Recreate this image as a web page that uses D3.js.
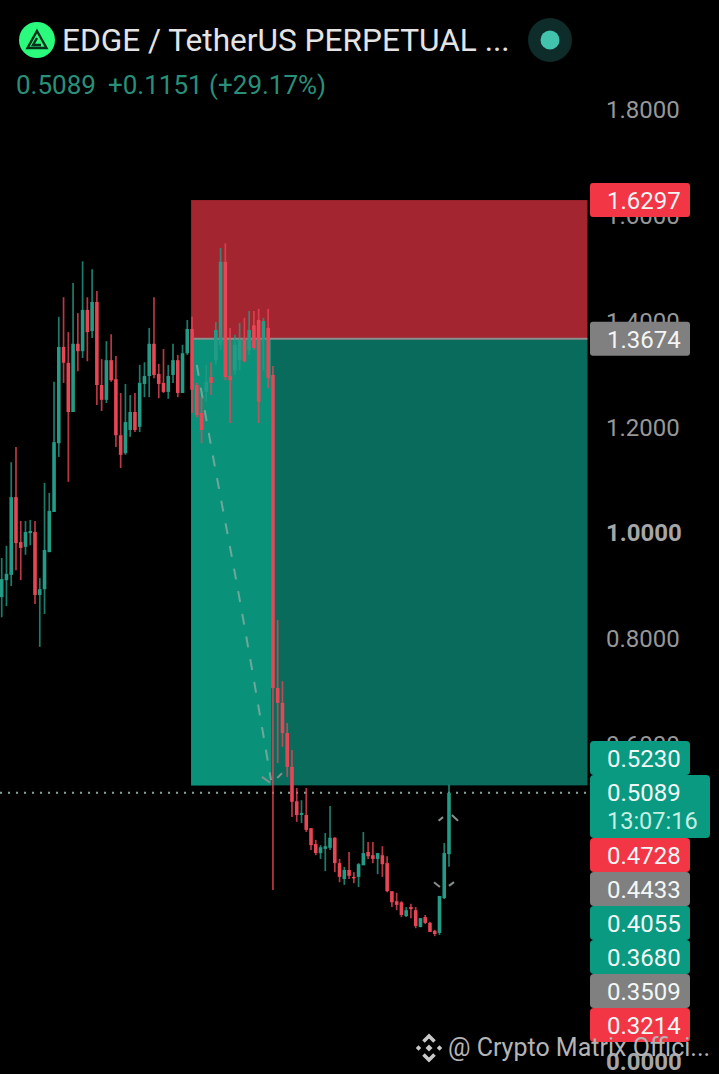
<!DOCTYPE html>
<html>
<head>
<meta charset="utf-8">
<title>EDGE / TetherUS</title>
<script src="https://d3js.org/d3.v7.min.js"></script>
<style>
  html, body { margin: 0; padding: 0; background: #000; overflow: hidden; }
  svg { display: block; }
  text { font-family: Roboto, sans-serif; }
</style>
</head>
<body>
<div id="chart"></div>
<script>
// candles (prices)
var opens = [.879,.911,.921,1.068,.983,.974,1.000,1.002,.883,.894,
  .964,1.040,1.170,1.352,1.322,1.229,1.358,1.344,1.422,1.382,
  1.437,1.280,1.252,1.327,1.291,1.185,1.151,1.195,1.229,1.201,
  1.282,1.297,1.358,1.301,1.284,1.267,1.299,1.327,1.265,1.340,
  1.386,1.280,1.227,1.267,1.295,1.327,1.356,1.513,1.297,1.308,
  1.327,1.369,1.346,1.393,1.403,1.365,1.388,1.299,.707,.679,
  .622,.558,.493,.467,.467,.442,.412,.395,.403,.405,
  .424,.376,.346,.363,.350,.350,.372,.397,.391,.384,
  .391,.376,.323,.304,.302,.276,.293,.287,.255,.274,
  .263,.248,.244,.310,.393];
var highs = [.953,.976,1.134,1.163,1.023,1.023,1.025,1.023,.915,1.095,
  1.076,1.286,1.409,1.446,1.380,1.473,1.416,1.514,1.446,1.499,
  1.458,1.329,1.363,1.376,1.335,1.265,1.282,1.261,1.265,1.318,
  1.323,1.388,1.446,1.320,1.348,1.318,1.358,1.337,1.356,1.403,
  1.409,1.284,1.257,1.318,1.323,1.399,1.539,1.548,1.388,1.375,
  1.397,1.407,1.420,1.420,1.424,1.407,1.424,1.316,.836,.720,
  .641,.590,.518,.495,.518,.442,.420,.410,.433,.484,
  .425,.384,.369,.397,.359,.376,.435,.416,.416,.395,
  .408,.389,.323,.320,.304,.293,.299,.293,.272,.278,
  .265,.250,.314,.414,.524];
var lows = [.841,.862,.900,.930,.911,.959,.977,.866,.785,.847,
  .964,1.040,1.144,1.284,1.097,1.229,1.306,1.331,1.325,1.369,
  1.242,1.231,1.246,1.286,1.163,1.123,1.148,1.182,1.191,1.191,
  1.257,1.257,1.293,1.255,1.265,1.254,1.284,1.257,1.265,1.337,
  1.227,1.219,1.170,1.248,1.261,1.318,1.346,1.289,1.208,1.299,
  1.308,1.323,1.337,1.346,1.208,1.308,1.274,.325,.565,.596,
  .539,.463,.454,.452,.435,.401,.391,.384,.361,.401,
  .359,.340,.335,.346,.338,.331,.372,.384,.376,.355,
  .350,.321,.293,.287,.274,.274,.272,.253,.255,.261,
  .246,.238,.240,.308,.369];
var closes = [.913,.923,1.068,.981,.972,1.002,1.004,.883,.894,.968,
  1.042,1.172,1.352,1.322,1.229,1.358,1.344,1.422,1.380,1.437,
  1.280,1.252,1.327,1.289,1.185,1.148,1.210,1.229,1.195,1.284,
  1.297,1.358,1.299,1.282,1.267,1.297,1.327,1.265,1.340,1.386,
  1.271,1.223,1.195,1.286,1.284,1.384,1.513,1.295,1.289,1.356,
  1.365,1.325,1.384,1.350,1.248,1.401,1.293,.707,.679,.622,
  .558,.492,.467,.471,.439,.410,.395,.406,.408,.424,
  .376,.350,.363,.352,.348,.374,.395,.389,.384,.395,
  .374,.323,.302,.297,.278,.287,.289,.257,.272,.263,
  .246,.242,.314,.395,.5089];

var tickValues = [1.8, 1.6, 1.4, 1.2, 1.0, 0.8, 0.6, 0.4, 0.2, 0];
var boldTicks = [1.0, 0];

// the long position drawing: stop, entry, target, and its bar range
var stopPrice = 1.6297, entryPrice = 1.3674, targetPrice = 0.5230;
var posBars = [39.8, 56.6, 123.1];
var lastPrice = 0.5089;

// dashed projection and the little carets
var dashBars = [41, 43.4, 50.1, 56.6];
var dashPrices = [1.318, 1.195, 0.870, 0.533];
var caretBars = [[90.85, 92.1], [95.05, 94], [91.8, 92.75], [95.9, 94.6],
                 [54.7, 56.4], [58.9, 57.9]];
var caretPrices = [[.340, .331], [.340, .333], [.456, .463], [.456, .467],
                   [.539, .528], [.546, .537]];

// labels on the price scale, top one first
var labelPrices = ["0.5230", "0.5089", "0.4728", "0.4433", "0.4055", "0.3680", "0.3509", "0.3214"];
var labelKinds = ["up", "up", "down", "grey", "up", "up", "grey", "down"];
var countdown = "13:07:16";

var width = 719, height = 1074;
var upColor = "#239c86", downColor = "#e84555", greyColor = "#808080";
var kindColor = {up: "#0a9a82", down: "#f23645", grey: greyColor};

var svg = d3.select("#chart").append("svg")
    .attr("width", width)
    .attr("height", height)
    .style("background", "#000");

// the photo is a bit soft, candles especially
svg.append("defs").append("filter").attr("id", "soft")
    .append("feGaussianBlur").attr("stdDeviation", 0.45);

var x = d3.scaleLinear().domain([0, opens.length - 1]).range([1.7, 449]);
var y = d3.scaleLinear().domain([0, 1.8]).range([1062, 110]);

// price axis
var yAxis = d3.axisRight(y)
    .tickValues(tickValues)
    .tickSize(0)
    .tickPadding(0)
    .tickFormat(function(d) { return d.toFixed(4); });

var axisG = svg.append("g")
    .attr("transform", "translate(606,0)")
    .call(yAxis);
axisG.select(".domain").remove();
axisG.selectAll("text")
    .style("font-family", "Roboto, sans-serif")
    .style("font-size", "24px")
    .style("fill", function(d) { return boldTicks.indexOf(d) >= 0 ? "#a6a6a6" : "#979797"; })
    .style("font-weight", function(d) { return boldTicks.indexOf(d) >= 0 ? 700 : 400; });

// position boxes
svg.append("rect")
    .attr("x", x(posBars[0])).attr("y", y(stopPrice))
    .attr("width", x(posBars[2]) - x(posBars[0]))
    .attr("height", y(entryPrice) - y(stopPrice))
    .attr("fill", "#a22530");
svg.append("rect")
    .attr("x", x(posBars[0])).attr("y", y(entryPrice))
    .attr("width", x(posBars[2]) - x(posBars[0]))
    .attr("height", y(targetPrice) - y(entryPrice))
    .attr("fill", "#086b5c");
svg.append("rect")
    .attr("x", x(posBars[0])).attr("y", y(entryPrice))
    .attr("width", x(posBars[1]) - x(posBars[0]))
    .attr("height", y(targetPrice) - y(entryPrice))
    .attr("fill", "#0a917a");
svg.append("line")
    .attr("x1", x(posBars[0])).attr("x2", x(posBars[2]))
    .attr("y1", y(entryPrice)).attr("y2", y(entryPrice))
    .attr("stroke", "#8d8d8d").attr("stroke-width", 2);

// last price dotted line
svg.append("line")
    .attr("x1", 0).attr("x2", x(posBars[2]))
    .attr("y1", y(lastPrice)).attr("y2", y(lastPrice))
    .attr("stroke", "#7fa99e").attr("stroke-width", 2)
    .attr("stroke-dasharray", "2 6");

// dashed projection
var dashLine = d3.line()
    .x(function(d) { return x(d[0]); })
    .y(function(d) { return y(d[1]); })
    .curve(d3.curveMonotoneY);
svg.append("path")
    .datum(d3.zip(dashBars, dashPrices))
    .attr("d", dashLine)
    .attr("fill", "none")
    .attr("stroke", "#6fa79b")
    .attr("stroke-width", 2)
    .attr("stroke-dasharray", "11 12");

svg.selectAll(".caret")
    .data(d3.range(caretBars.length))
    .enter().append("line")
    .attr("class", "caret")
    .attr("x1", function(i) { return x(caretBars[i][0]); })
    .attr("x2", function(i) { return x(caretBars[i][1]); })
    .attr("y1", function(i) { return y(caretPrices[i][0]); })
    .attr("y2", function(i) { return y(caretPrices[i][1]); })
    .attr("stroke", "#858f8b")
    .attr("stroke-width", 2);

// candles
var candles = svg.append("g").attr("filter", "url(#soft)")
    .selectAll(".candle")
    .data(d3.range(opens.length))
    .enter().append("g")
    .attr("class", "candle")
    .attr("fill", function(i) { return closes[i] >= opens[i] ? upColor : downColor; })
    .attr("stroke", function(i) { return closes[i] >= opens[i] ? upColor : downColor; });

candles.append("line")
    .attr("x1", function(i) { return x(i); })
    .attr("x2", function(i) { return x(i); })
    .attr("y1", function(i) { return y(highs[i]); })
    .attr("y2", function(i) { return y(lows[i]); })
    .attr("stroke-width", 1.7)
    .attr("stroke-opacity", 0.8);

candles.append("rect")
    .attr("stroke", "none")
    .attr("x", function(i) { return x(i) - 1.8; })
    .attr("width", 3.6)
    .attr("y", function(i) { return y(Math.max(opens[i], closes[i])); })
    .attr("height", function(i) { return Math.max(1.5, Math.abs(y(opens[i]) - y(closes[i]))); });

// stop and entry labels sit at their own prices
var sideLabels = [[stopPrice, kindColor.down], [entryPrice, greyColor]];
sideLabels.forEach(function(d) {
    var g = svg.append("g").attr("transform", "translate(590," + y(d[0]) + ")");
    g.append("rect").attr("y", -17).attr("width", 100).attr("height", 34).attr("rx", 3).attr("fill", d[1]);
    g.append("text").attr("x", 17).attr("y", 9).attr("fill", "#f4f4f4")
        .style("font-size", "24px").text(d[0].toFixed(4));
});

// the rest stack downward from the top one
var stackY = 741;
labelPrices.forEach(function(label, i) {
    var isLast = +label === lastPrice;
    var h = isLast ? 63 : 34;
    var g = svg.append("g").attr("transform", "translate(590," + stackY + ")");
    g.append("rect")
        .attr("width", isLast ? 120 : 100)
        .attr("height", h)
        .attr("rx", 4)
        .attr("fill", kindColor[labelKinds[i]]);
    g.append("text").attr("x", 17).attr("y", 25.5).attr("fill", "#f2f7f5")
        .style("font-size", "24px").text(label);
    if (isLast) {
        g.append("text").attr("x", 17).attr("y", 54).attr("fill", "#c5efe4")
            .style("font-size", "23.5px").text(countdown);
    }
    stackY += h;
});

// header
svg.append("circle").attr("cx", 37).attr("cy", 40).attr("r", 18).attr("fill", "#2bfb7c");
svg.append("path")
    .attr("d", "M37 31 L46.5 48 L27.5 48 Z M37 38 L33 45 L41 45")
    .attr("fill", "none").attr("stroke", "#07301c").attr("stroke-width", 2.4);
svg.append("text").attr("x", 62).attr("y", 51)
    .attr("fill", "#e4e4e4").style("font-size", "31.6px")
    .text("EDGE / TetherUS PERPETUAL ...");
svg.append("text").attr("x", 16).attr("y", 94)
    .attr("fill", "#2a8f78").style("font-size", "26px")
    .text("0.5089");
svg.append("text").attr("x", 108).attr("y", 94)
    .attr("fill", "#2a8f78").style("font-size", "26px")
    .text("+0.1151 (+29.17%)");
svg.append("circle").attr("cx", 550).attr("cy", 40).attr("r", 22).attr("fill", "#0e2c2a");
svg.append("circle").attr("cx", 550).attr("cy", 40).attr("r", 9.5).attr("fill", "#42c3ad");

// watermark
var wm = svg.append("g").attr("transform", "translate(429,1048)")
    .attr("fill", "none").attr("stroke", "#c9c9c9").attr("stroke-width", 3.6);
wm.append("path").attr("d", "M-5.5 -6.5 L0 -12 L5.5 -6.5 M-5.5 6.5 L0 12 L5.5 6.5");
wm.append("path").attr("fill", "#c9c9c9").attr("stroke", "none")
    .attr("d", "M0 -3.5 L3.5 0 L0 3.5 L-3.5 0 Z M-10.5 -2.7 L-7.8 0 L-10.5 2.7 L-13.2 0 Z M10.5 -2.7 L13.2 0 L10.5 2.7 L7.8 0 Z");
svg.append("text").attr("x", 448).attr("y", 1056)
    .attr("fill", "#b4b4b4").style("font-size", "25px")
    .text("@ Crypto Matrix Offici...");
</script>
</body>
</html>
